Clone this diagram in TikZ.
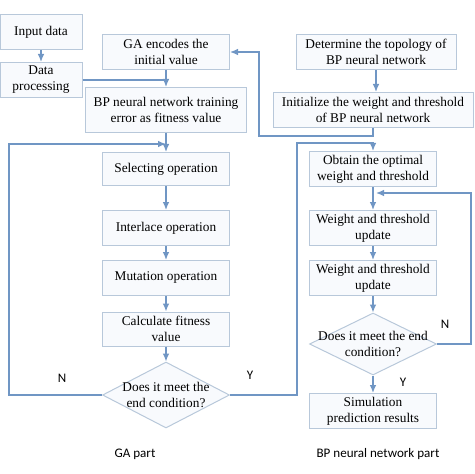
\documentclass[tikz,border=0pt]{standalone}
\usepackage{fontspec}
\setmainfont{Liberation Serif}
\newfontfamily\capfont{Carlito}
\usetikzlibrary{shapes.geometric,arrows.meta}

\begin{document}
\begin{tikzpicture}[x=0.75pt,y=0.75pt,yscale=-1,xscale=1,
  box/.style={draw={rgb, 255:red, 184; green, 200; blue, 218},fill={rgb, 255:red, 248; green, 250; blue, 253},line width=0.75pt,inner sep=0pt,align=center,font=\rmfamily\fontsize{10}{12}\selectfont,minimum height=26.25pt},
  dec/.style={diamond,draw={rgb, 255:red, 184; green, 200; blue, 218},fill={rgb, 255:red, 248; green, 250; blue, 253},line width=0.75pt,inner sep=0pt,minimum width=95.25pt},
  dectext/.style={align=center,inner sep=0pt,font=\rmfamily\fontsize{10}{12}\selectfont},
  flow/.style={draw={rgb, 255:red, 112; green, 150; blue, 196},line width=1pt,-{Latex[length=6pt,width=5pt]}},
  line/.style={draw={rgb, 255:red, 112; green, 150; blue, 196},line width=1pt},
  yn/.style={font=\capfont\fontsize{9.8}{12}\selectfont,inner sep=0pt}]
\useasboundingbox (0,0) rectangle (474,474);

%GA part boxes
\node [box,minimum width=61.5pt] (inp) at (41,32) {Input data};
\node [box,minimum width=61.5pt] (proc) at (41,80) {Data\\processing};
\node [box,minimum width=95.25pt] (enc) at (166,52) {GA encodes the\\initial value};
\node [box,minimum width=120.75pt,minimum height=33.75pt] (train) at (166,110) {BP neural network training\\error as fitness value};
\node [box,minimum width=95.25pt,minimum height=24.75pt] (sel) at (166,169) {Selecting operation};
\node [box,minimum width=95.25pt] (inter) at (166,228) {Interlace operation};
\node [box,minimum width=95.25pt] (mut) at (166,278) {Mutation operation};
\node [box,minimum width=95.25pt,minimum height=25.5pt] (fit) at (166,329) {Calculate fitness\\value};
\node [dec,minimum height=49.5pt] (gadec) at (166,395) {};
\node [dectext] (gatxt) at (gadec) {Does it meet the\\end condition?};

%BP neural network part boxes
\node [box,minimum width=120pt] (topo) at (376,52) {Determine the topology of\\BP neural network};
\node [box,minimum width=150pt] (init) at (373,110) {Initialize the weight and threshold\\of BP neural network};
\node [box,minimum width=95.25pt] (opt) at (373,169) {Obtain the optimal\\weight and threshold};
\node [box,minimum width=95.25pt] (upd1) at (373,228) {Weight and threshold\\update};
\node [box,minimum width=95.25pt] (upd2) at (373,278) {Weight and threshold\\update};
\node [dec,minimum height=46.5pt] (bpdec) at (373,344) {};
\node [dectext] (bptxt) at (bpdec) {Does it meet the end\\condition?};
\node [box,minimum width=95.25pt] (sim) at (373,411) {Simulation\\prediction results};

%Corner points
\coordinate (gajoin) at (166,144);
\coordinate (galeft) at (9,395);
\coordinate (gayes) at (297,143);
\coordinate (encbend) at (259,136);
\coordinate (bpright) at (471,344);
\coordinate (bpjoin) at (376,193);

%GA flow
\draw [flow] (inp) -- (proc);
\draw [flow] (enc) -- (train);
\draw [line] (proc.east) -- (proc.east -| train.north);
\draw [flow] (train) -- (sel);
\draw [flow] (sel) -- (inter);
\draw [flow] (inter) -- (mut);
\draw [flow] (mut) -- (fit);
\draw [flow] (fit) -- (gadec);
\draw [flow] (gadec.west) -- (galeft) |- (gajoin);
\draw [flow] (gadec.east) -| (gayes) -| (opt.north);

%BP flow
\draw [flow] (topo) -- (topo |- init.north);
\draw [flow] (init.south) |- (encbend) |- (enc.east);
\draw [flow] (opt) -- (upd1);
\draw [flow] (upd1) -- (upd2);
\draw [flow] (upd2) -- (bpdec);
\draw [flow] (bpdec) -- (sim);
\draw [flow] (bpdec.east) -- (bpright) |- (bpjoin);

% Text Node
\node [yn] (gan) at (62,378) {N};
\node [yn] (gay) at (250,375) {Y};
\node [yn] (bpn) at (445,324) {N};
\node [yn] (bpy) at (403,382) {Y};
\node [yn] (gacap) at (135,454) {GA part};
\node [yn] (bpcap) at (378,454) {BP neural network part};

\end{tikzpicture}
\end{document}
